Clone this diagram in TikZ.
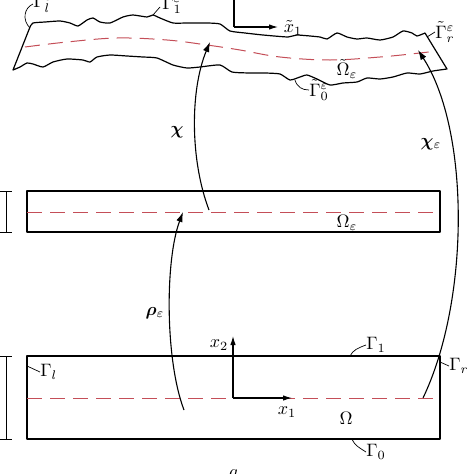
\documentclass[tikz,border=0pt]{standalone}
\usepackage{bm}
\usetikzlibrary{arrows.meta}
\definecolor{dashred}{RGB}{196,78,88}
\begin{document}
\begin{tikzpicture}[x=1pt,y=-1pt,
  bound/.style={line width=1.2pt, line join=round},
  mid/.style={dashred, line width=1pt, dash pattern=on 15pt off 8pt},
  map/.style={line width=1.1pt, -{Latex[length=10pt,width=6.5pt]}},
  ax/.style={line width=1.1pt, -{Latex[length=9pt,width=5.5pt]}},
  lead/.style={line width=0.7pt},
  lbl/.style={inner sep=0pt, scale=1.8}]
\useasboundingbox (0,0) rectangle (474,474);

% ---------- bottom reference domain ----------
\draw[bound] (27,356) rectangle (440,439);
\draw[mid] (27,398) -- (440,398);
\coordinate (O) at (233,398);
\coordinate (X1) at (292,398);
\coordinate (X2) at (233,336);
\draw[ax] (O) -- (X1);
\draw[ax] (O) -- (X2);
\node[lbl] (x1) at (287,412) {$x_1$};
\node[lbl] (x2) at (219,345) {$x_2$};
\node[lbl] (Om) at (346,418) {$\Omega$};
\node[lbl,anchor=west] (G1) at (366,345) {$\Gamma_1$};
\draw[lead] (350,356) .. controls (353,350) and (358,348) .. (G1.west);
\node[lbl,anchor=west] (G0) at (366,452) {$\Gamma_0$};
\draw[lead] (352,439) .. controls (355,446) and (360,448) .. (G0.west);
\node[lbl,anchor=west] (Gr) at (449,366) {$\Gamma_r$};
\draw[lead] (440,362) -- (Gr.west);
\node[lbl,anchor=west] (Gl) at (40,372) {$\Gamma_l$};
\draw[lead] (27,366) -- (Gl.west);
% bracket
\draw[lead,line width=0.9pt] (0,356) -- (12,356) (6,356) -- (6,439) (0,439) -- (12,439);
\node[lbl] (a) at (234,474) {$a$};

% ---------- middle domain ----------
\draw[bound] (27,191) rectangle (440,232);
\draw[mid] (27,212) -- (440,212);
\node[lbl] (Oe) at (347,223) {$\Omega_\varepsilon$};
\draw[lead,line width=0.9pt] (0,191) -- (12,191) (6,191) -- (6,232) (0,232) -- (12,232);

% ---------- deformed strip ----------
\draw[bound]
  plot[smooth,tension=.35] coordinates {(30,27) (33,23) (45,22) (60,21) (70,23) (78,26) (87,20) (93,18) (100,22) (110,23) (123,17) (133,15) (147,17) (153,15) (160,18) (173,23) (187,23) (207,23) (220,24) (230,31) (245,33) (263,35) (288,37) (297,35) (320,37) (327,39) (337,33) (347,37) (357,39) (367,38) (380,40) (393,37) (403,31) (412,33) (417,36) (425,33)}
  -- plot[smooth,tension=.35] coordinates {(447,69) (433,71) (420,74) (407,73) (393,77) (380,79) (367,78) (357,82) (343,83) (330,85) (317,79) (307,75) (300,77) (290,80) (280,74) (265,73) (250,73) (232,72) (220,65) (200,67) (187,68) (173,65) (157,58) (143,57) (127,56) (110,55) (97,57) (90,62) (83,60) (67,59) (53,62) (43,67) (33,64) (27,63) (20,67) (13,70)}
  -- cycle;
\draw[mid] plot[smooth,tension=.6] coordinates {(25,47) (67,42) (117,38) (167,40) (207,45) (240,50) (280,57) (330,60) (380,57) (420,53) (436,51)};
\coordinate (Ot) at (234,27);
\coordinate (Xt1) at (278,27);
\coordinate (Xt2) at (234,-20);
\draw[ax] (Ot) -- (Xt1);
\draw[ax] (Ot) -- (Xt2);
\node[lbl] (xt1) at (293,28) {$\tilde x_1$};
\node[lbl] (xt2) at (212,-9) {$\tilde x_2$};
\node[lbl] (Ot2) at (347,69) {$\tilde\Omega_\varepsilon$};
\node[lbl,anchor=west] (Gt0) at (309,90) {$\tilde\Gamma_0^\varepsilon$};
\draw[lead] (295,80) .. controls (297,87) and (302,90) .. (Gt0.west);
\node[lbl,anchor=west] (Gtr) at (435,32) {$\tilde\Gamma_r^\varepsilon$};
\draw[lead] (427,37) -- (Gtr.west);
\node[lbl,anchor=base west] (Gtl) at (33,7) {$\tilde\Gamma_l^\varepsilon$};
\draw[lead] (30,28) .. controls (22,20) and (24,8) .. (33,4);
\node[lbl,anchor=base west] (Gt1) at (162,9) {$\tilde\Gamma_1^\varepsilon$};
\draw[lead] (153,15) -- (160,7);

% ---------- maps ----------
\coordinate (r0) at (184,410);
\coordinate (r1) at (183,212);
\draw[map] (r0) .. controls (165,360) and (165,260) .. (r1);
\node[lbl] (rho) at (155,313) {$\bm{\rho}_\varepsilon$};
\coordinate (c0) at (209,210);
\coordinate (c1) at (210,42);
\draw[map] (c0) .. controls (190,160) and (190,90) .. (c1);
\node[lbl] (chi) at (177,132) {$\bm{\chi}$};
\coordinate (e0) at (423,398);
\coordinate (e1) at (418,50);
\draw[map] (e0) .. controls (470,300) and (470,130) .. (e1);
\node[lbl] (chie) at (431,144) {$\bm{\chi}_\varepsilon$};
\end{tikzpicture}
\end{document}
